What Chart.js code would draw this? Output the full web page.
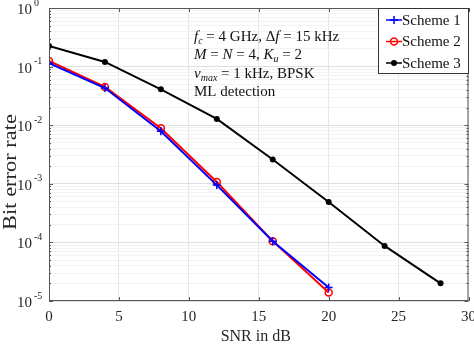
<!DOCTYPE html>
<html lang="en">
<head>
<meta charset="UTF-8">
<title>BER vs SNR</title>
<script src="https://cdn.jsdelivr.net/npm/chart.js"></script>
<style>
  html, body { margin: 0; padding: 0; background: #fff; }
  canvas { display: block; }
</style>
</head>
<body>
<canvas id="berChart" width="474" height="346"></canvas>
<script>
// SNR points (dB)
const snrShort = [0, 4, 8, 12, 16, 20];
const snrLong = [0, 4, 8, 12, 16, 20, 24, 28];

// bit error rates
const scheme1 = [0.115, 0.043, 0.0079, 0.00095, 0.000105, 0.000017];
const scheme2 = [0.125, 0.045, 0.0089, 0.00107, 0.000105, 0.000014];
const scheme3 = [0.225, 0.12, 0.041, 0.0128, 0.0026, 0.00049, 0.000087, 0.00002];

const seriesNames = ['Scheme 1', 'Scheme 2', 'Scheme 3'];
const xTicks = [0, 5, 10, 15, 20, 25, 30];
const yExponents = [0, -1, -2, -3, -4, -5];

const SERIF = '"Liberation Serif", "DejaVu Serif", serif';

function toPoints(xs, ys) {
    return xs.map((x, i) => ({ x: x, y: ys[i] }));
}

// 1..9 x 10^e for every decade, decades flagged as major
function logTicks() {
    const t = [];
    for (let e = -5; e <= 0; e++) {
        for (let m = 1; m <= 9; m++) {
            const v = m * Math.pow(10, e);
            if (v > 1.0000001) break;
            t.push({ value: v, major: m === 1 });
        }
    }
    return t;
}

// text with italic / subscript pieces
function drawRich(ctx, x, y, parts, size) {
    let cx = x;
    parts.forEach(p => {
        const s = p.sub ? Math.round(size * 0.68) : size;
        ctx.font = (p.i ? 'italic ' : '') + s + 'px ' + SERIF;
        ctx.fillText(p.t, cx, y + (p.sub ? 3 : 0));
        cx += ctx.measureText(p.t).width;
    });
}

function drawMarker(ctx, style, x, y) {
    ctx.save();
    ctx.lineWidth = 1.5;
    if (style === 'cross') {
        ctx.strokeStyle = '#0000ff';
        ctx.beginPath();
        ctx.moveTo(x - 4, y); ctx.lineTo(x + 4, y);
        ctx.moveTo(x, y - 4); ctx.lineTo(x, y + 4);
        ctx.stroke();
    } else if (style === 'open') {
        ctx.strokeStyle = '#ff0000';
        ctx.beginPath();
        ctx.arc(x, y, 3.5, 0, Math.PI * 2);
        ctx.stroke();
    } else {
        ctx.fillStyle = '#000';
        ctx.beginPath();
        ctx.arc(x, y, 3, 0, Math.PI * 2);
        ctx.fill();
    }
    ctx.restore();
}

const decorations = {
    id: 'decorations',
    afterDraw(chart) {
        const ctx = chart.ctx;
        const a = chart.chartArea;
        const xs = chart.scales.x;
        const ys = chart.scales.y;
        ctx.save();

        // axis box and inward ticks
        ctx.strokeStyle = '#555';
        ctx.lineWidth = 1;
        ctx.strokeRect(a.left + 0.5, a.top + 0.5, a.right - a.left - 1, a.bottom - a.top - 1);
        ctx.beginPath();
        xTicks.forEach(v => {
            const px = Math.round(xs.getPixelForValue(v)) + 0.5;
            ctx.moveTo(px, a.bottom); ctx.lineTo(px, a.bottom - 4);
            ctx.moveTo(px, a.top); ctx.lineTo(px, a.top + 4);
        });
        logTicks().forEach(t => {
            const py = Math.round(ys.getPixelForValue(t.value)) + 0.5;
            const len = t.major ? 4 : 2;
            ctx.moveTo(a.left, py); ctx.lineTo(a.left + len, py);
            ctx.moveTo(a.right, py); ctx.lineTo(a.right - len, py);
        });
        ctx.stroke();

        ctx.fillStyle = '#262626';
        // x tick labels
        ctx.font = '15px ' + SERIF;
        ctx.textAlign = 'center';
        ctx.textBaseline = 'middle';
        xTicks.forEach(v => {
            ctx.fillText(String(v), xs.getPixelForValue(v), a.bottom + 16);
        });

        // y tick labels 10^e
        yExponents.forEach(e => {
            const py = ys.getPixelForValue(Math.pow(10, e));
            ctx.font = '15px ' + SERIF;
            ctx.textAlign = 'right';
            ctx.textBaseline = 'middle';
            ctx.fillText('10', 32, py + 2);
            ctx.font = '10px ' + SERIF;
            ctx.textAlign = 'left';
            ctx.fillText(e === 0 ? '0' : '-' + (-e), 34, py - 5);
        });

        // axis titles
        ctx.font = '16px ' + SERIF;
        ctx.textAlign = 'center';
        ctx.textBaseline = 'middle';
        ctx.fillText('SNR in dB', (a.left + a.right) / 2 - 3, 337);
        ctx.save();
        ctx.translate(11, 172);
        ctx.rotate(-Math.PI / 2);
        ctx.scale(1.18, 1);
        ctx.font = '19px ' + SERIF;
        ctx.fillText('Bit error rate', 0, 0);
        ctx.restore();

        // parameter note
        ctx.fillStyle = '#111';
        ctx.textAlign = 'left';
        ctx.textBaseline = 'alphabetic';
        const nx = 194;
        drawRich(ctx, nx, 41, [{ t: 'f', i: 1 }, { t: 'c', i: 1, sub: 1 }, { t: ' = 4 GHz, Δ' }, { t: 'f', i: 1 }, { t: ' = 15 kHz' }], 15);
        drawRich(ctx, nx, 59, [{ t: 'M', i: 1 }, { t: ' = ' }, { t: 'N', i: 1 }, { t: ' = 4, ' }, { t: 'K', i: 1 }, { t: 'u', i: 1, sub: 1 }, { t: ' = 2' }], 15);
        drawRich(ctx, nx, 78, [{ t: 'ν', i: 1 }, { t: 'max', i: 1, sub: 1 }, { t: ' = 1 kHz, BPSK' }], 15);
        drawRich(ctx, nx, 96, [{ t: 'ML detection' }], 15);

        // legend box
        const lx = 378, ly = 8, lw = 91, lh = 66;
        ctx.fillStyle = '#fff';
        ctx.fillRect(lx, ly, lw, lh);
        ctx.strokeStyle = '#333';
        ctx.lineWidth = 1;
        ctx.strokeRect(lx + 0.5, ly + 0.5, lw - 1, lh - 1);
        const colors = ['#0000ff', '#ff0000', '#000000'];
        const markers = ['cross', 'open', 'dot'];
        seriesNames.forEach((name, i) => {
            const cy = ly + 12 + i * 21.5;
            ctx.strokeStyle = colors[i];
            ctx.lineWidth = 1.5;
            ctx.beginPath();
            ctx.moveTo(lx + 8, cy); ctx.lineTo(lx + 24, cy);
            ctx.stroke();
            drawMarker(ctx, markers[i], lx + 16, cy);
            ctx.fillStyle = '#111';
            ctx.font = '15px ' + SERIF;
            ctx.textBaseline = 'middle';
            ctx.fillText(name, lx + 24, cy + 1);
        });
        ctx.restore();
    }
};

const ctx = document.getElementById('berChart').getContext('2d');
const berChart = new Chart(ctx, {
    type: 'line',
    data: {
        datasets: [
            {
                label: seriesNames[0],
                data: toPoints(snrShort, scheme1),
                borderColor: '#0000ff',
                borderWidth: 2,
                pointStyle: 'cross',
                pointRadius: 4,
                pointBorderWidth: 1.5,
                pointBorderColor: '#0000ff',
                fill: false
            },
            {
                label: seriesNames[1],
                data: toPoints(snrShort, scheme2),
                borderColor: '#ff0000',
                borderWidth: 2,
                pointStyle: 'circle',
                pointRadius: 3.5,
                pointBorderWidth: 1.5,
                pointBorderColor: '#ff0000',
                pointBackgroundColor: 'rgba(255,255,255,0)',
                fill: false
            },
            {
                label: seriesNames[2],
                data: toPoints(snrLong, scheme3),
                borderColor: '#000000',
                borderWidth: 2,
                pointStyle: 'circle',
                pointRadius: 3,
                pointBorderWidth: 0,
                pointBackgroundColor: '#000000',
                fill: false
            }
        ]
    },
    options: {
        responsive: false,
        animation: false,
        layout: { padding: { top: 8, right: 5, left: 0, bottom: 0 } },
        plugins: { legend: { display: false }, tooltip: { enabled: false } },
        scales: {
            x: {
                type: 'linear',
                min: 0,
                max: 30,
                ticks: { display: false, stepSize: 5 },
                border: { display: false },
                grid: { color: '#e6e6e6', drawTicks: false },
                afterFit: s => { s.height = 45; }
            },
            y: {
                type: 'logarithmic',
                min: 1e-5,
                max: 1,
                ticks: { display: false },
                border: { display: false },
                afterBuildTicks: s => { s.ticks = logTicks(); },
                grid: {
                    drawTicks: false,
                    color: c => (c.tick && c.tick.major) ? '#dedede' : '#f2f2f2'
                },
                afterFit: s => { s.width = 49; }
            }
        }
    },
    plugins: [decorations]
});
</script>
</body>
</html>
